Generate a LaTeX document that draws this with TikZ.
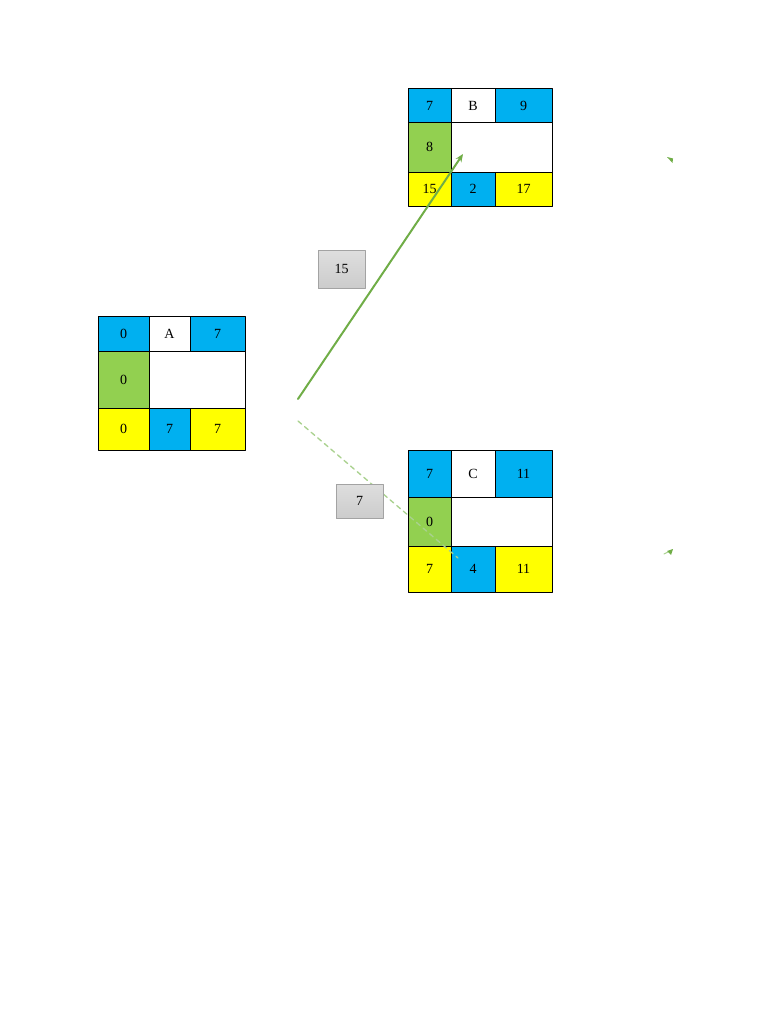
\documentclass[tikz,border=0pt]{standalone}
\usepackage{fontspec}
\setmainfont{Liberation Serif}
\usetikzlibrary{arrows.meta}
\definecolor{cblue}{RGB}{0,176,240}
\definecolor{cgreen}{RGB}{146,208,80}
\definecolor{cyellow}{RGB}{255,255,0}
\definecolor{carrow}{RGB}{112,173,71}
\definecolor{cdash}{RGB}{169,209,142}
\definecolor{cgrayA}{RGB}{222,222,222}
\definecolor{cgrayB}{RGB}{204,204,204}
\begin{document}
\begin{tikzpicture}[x=0.75pt,y=-0.75pt,line cap=round,line join=round
  ,font=\fontsize{10.5}{12}\selectfont
  ,cell/.style={draw=black,line width=0.75pt}
  ,lbl/.style={draw=cgrayB!80!black,line width=0.5pt,top color=cgrayA,bottom color=cgrayB
    ,minimum width=35.25pt,inner sep=0pt}
  ,link/.style={carrow,line width=1.5pt,-{Stealth[length=6pt,width=5pt]}}
  ,slack/.style={cdash,line width=1pt,dash pattern=on 3.5pt off 3pt}]
\useasboundingbox (0,0) rectangle (768,1024);
% task A
\draw[cell,fill=cblue] (98,316) rectangle (149,351) node[midway] (A-es) {0};
\draw[cell,fill=white] (149,316) rectangle (190,351) node[midway] (A-name) {A};
\draw[cell,fill=cblue] (190,316) rectangle (245,351) node[midway] (A-ef) {7};
\draw[cell,fill=cgreen] (98,351) rectangle (149,408) node[midway] (A-sl) {0};
\draw[cell,fill=white] (149,351) rectangle (245,408);
\draw[cell,fill=cyellow] (98,408) rectangle (149,450) node[midway] (A-ls) {0};
\draw[cell,fill=cblue] (149,408) rectangle (190,450) node[midway] (A-d) {7};
\draw[cell,fill=cyellow] (190,408) rectangle (245,450) node[midway] (A-lf) {7};
% task B
\draw[cell,fill=cblue] (408,89) rectangle (451,122) node[midway] (B-es) {7};
\draw[cell,fill=white] (451,89) rectangle (495,122) node[midway] (B-name) {B};
\draw[cell,fill=cblue] (495,89) rectangle (552,122) node[midway] (B-ef) {9};
\draw[cell,fill=cgreen] (408,122) rectangle (451,172) node[midway] (B-sl) {8};
\draw[cell,fill=white] (451,122) rectangle (552,172);
\draw[cell,fill=cyellow] (408,172) rectangle (451,206) node[midway] (B-ls) {15};
\draw[cell,fill=cblue] (451,172) rectangle (495,206) node[midway] (B-d) {2};
\draw[cell,fill=cyellow] (495,172) rectangle (552,206) node[midway] (B-lf) {17};
% task C
\draw[cell,fill=cblue] (408,450) rectangle (451,497) node[midway] (C-es) {7};
\draw[cell,fill=white] (451,450) rectangle (495,497) node[midway] (C-name) {C};
\draw[cell,fill=cblue] (495,450) rectangle (552,497) node[midway] (C-ef) {11};
\draw[cell,fill=cgreen] (408,497) rectangle (451,546) node[midway] (C-sl) {0};
\draw[cell,fill=white] (451,497) rectangle (552,546);
\draw[cell,fill=cyellow] (408,546) rectangle (451,592) node[midway] (C-ls) {7};
\draw[cell,fill=cblue] (451,546) rectangle (495,592) node[midway] (C-d) {4};
\draw[cell,fill=cyellow] (495,546) rectangle (552,592) node[midway] (C-lf) {11};
% links
\coordinate (AB-from) at (298,399);
\coordinate (AB-to) at (463,154);
\coordinate (AC-from) at (298,421);
\coordinate (AC-to) at (458,558);
\draw[link] (AB-from) -- (AB-to);
\draw[slack] (AC-from) -- (AC-to);
% weights
\node[lbl,minimum height=28.5pt] (w-AB) at (341.5,269) {15};
\node[lbl,minimum height=25.5pt] (w-AC) at (359.5,501) {7};
% stray tips
\fill[carrow] (667,157) -- (673,158.5) -- (672.5,163) -- cycle;
\draw[cdash,line width=0.75pt] (664,554) -- (672,550);
\fill[carrow] (667,551) -- (673,549) -- (671,555) -- cycle;
\end{tikzpicture}
\end{document}
